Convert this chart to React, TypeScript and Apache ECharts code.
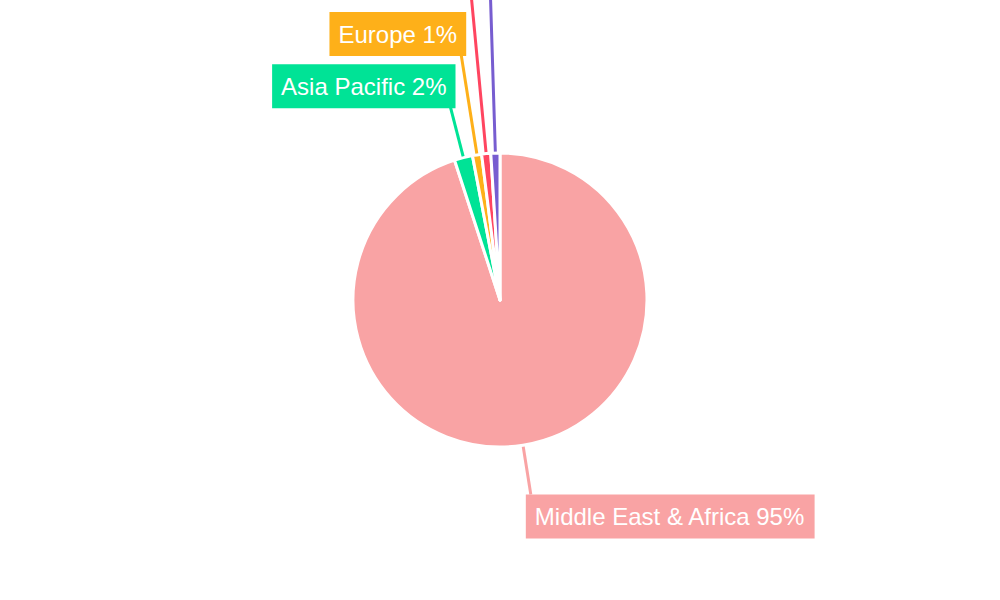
import React, { useEffect, useRef } from 'react';
import * as echarts from 'echarts';

const regions = ['Middle East & Africa', 'Asia Pacific', 'Europe', 'North America', 'South America'];
const shares = [95, 2, 1, 1, 1];
const colors = ['#F9A3A4', '#00E396', '#FEB019', '#FF4560', '#775DD0'];
// radial leader lengths, stacked so the small-slice labels do not overlap
const leaderLengths = [50, 52, 101, 166, 222];

const App: React.FC = () => {
    const chartRef = useRef<HTMLDivElement>(null);

    useEffect(() => {
        if (!chartRef.current) return;
        const chart = echarts.init(chartRef.current, undefined, { renderer: 'svg' });

        chart.setOption({
            animation: false,
            color: colors,
            series: [
                {
                    type: 'pie',
                    center: ['50%', '50%'],
                    radius: 147,
                    startAngle: 90,
                    clockwise: true,
                    avoidLabelOverlap: false,
                    itemStyle: { borderColor: '#fff', borderWidth: 3 },
                    data: regions.map((name, i) => ({
                        name,
                        value: shares[i],
                        labelLine: { length: leaderLengths[i] },
                    })),
                    label: {
                        show: true,
                        formatter: '{b} {d}%',
                        color: '#fff',
                        fontSize: 24,
                        fontFamily: 'Liberation Sans, Arial, sans-serif',
                        backgroundColor: 'inherit',
                        padding: [10, 9],
                        distanceToLabelLine: -5,
                    },
                    labelLine: {
                        show: true,
                        length2: 0,
                        smooth: false,
                        lineStyle: { width: 3 },
                    },
                    // box edge sits on the leader end: above it for the top labels, below for the bottom one
                    labelLayout: (params: any) => {
                        const h = params.labelRect.height;
                        return {
                            dy: params.dataIndex === 0 ? h / 2 : -h / 2 + 1,
                            labelLinePoints: params.labelLinePoints,
                        };
                    },
                },
            ],
        });

        return () => chart.dispose();
    }, []);

    return (
        <div
            ref={chartRef}
            style={{ position: 'absolute', left: 0, top: 0, width: 1000, height: 600, background: '#fff' }}
        />
    );
};

export default App;
